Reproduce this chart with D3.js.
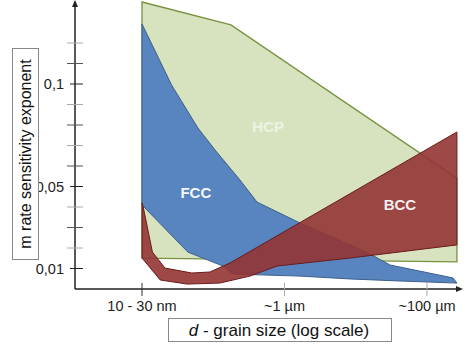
<!DOCTYPE html>
<meta charset="utf-8">
<style>
body { margin: 0; background: #fff; }
text { font-family: "Liberation Sans", Arial, sans-serif; }
.tick text { font-size: 14.5px; fill: #222; }
.region text { font-size: 15px; font-weight: bold; text-anchor: middle; }
</style>
<body>
<svg width="474" height="353"></svg>
<script src="https://cdn.jsdelivr.net/npm/d3@7"></script>
<script>
// grain size in nm, rate sensitivity m
var hcp = [[10,0.140],[177,0.1288],[263000,0.0541],[263000,0.0132],[10,0.0151]];
var fcc = [[10,0.1293],[26,0.0995],[61,0.0785],[106,0.0678],[237,0.0532],[411,0.0424],
           [1650,0.0322],[15850,0.0171],[30270,0.0117],[231700,0.0054],[263000,0.0029],
           [41800,0.0039],[8300,0.0049],[1650,0.0063],[189,0.0073],[137,0.0112],[44,0.018],[10,0.041]];
var bcc = [[10,0.042],[10,0.0151],[18,0.0044],[43,0.0024],[124,0.0029],[328,0.0063],[785,0.0112],
           [8300,0.0151],[263000,0.0215],[263000,0.0766],[172,0.0127],[90,0.0083],[50,0.0078],
           [21,0.0102],[14,0.018],[10.4,0.04]];
var yTicks = [0.01, 0.05, 0.1];
var yTickLabels = ["0,01", "0,05", "0,1"];
var yMinor = [0.02, 0.03, 0.04, 0.06, 0.07, 0.08, 0.09, 0.11, 0.12];
var xTicks = [10, 1000, 100000];
var xTickLabels = ["10 - 30 nm", "~1 \u00b5m", "~100 \u00b5m"];
var labels = [{name: "HCP", d: 590, m: 0.079, c: "#eef3e3"},
              {name: "FCC", d: 57, m: 0.0468, c: "#f4f7fb"},
              {name: "BCC", d: 41700, m: 0.041, c: "#f7eeee"}];

var svg = d3.select("svg");
var x = d3.scaleLog().domain([10, 1e5]).range([142, 427]);
var y = d3.scaleLinear().domain([0, 0.14]).range([289, 2]);
var x0 = 75, y0 = 289;

var line = d3.line().x(function(d) { return x(d[0]); }).y(function(d) { return y(d[1]); })
  .curve(d3.curveLinearClosed);

var g = svg.append("g").attr("class", "region");
g.append("path").datum(hcp).attr("d", line)
  .attr("fill", "#d7e3be").attr("stroke", "#77923f").attr("stroke-width", 1.3);
g.append("path").datum(fcc).attr("d", line)
  .attr("fill", "#5885bf").attr("stroke", "#3c5f8c").attr("stroke-width", 1);
g.append("path").datum(bcc).attr("d", line)
  .attr("fill", "#943434").attr("fill-opacity", 0.9).attr("stroke", "#6a1c1c").attr("stroke-width", 1);

g.selectAll("text").data(labels).enter().append("text")
  .attr("x", function(d) { return x(d.d); })
  .attr("y", function(d) { return y(d.m); })
  .attr("dy", "0.36em")
  .attr("fill", function(d) { return d.c; })
  .text(function(d) { return d.name; });

// axes
var ax = svg.append("g").attr("stroke", "#222");
ax.append("line").attr("x1", x0).attr("x2", x0).attr("y1", y0).attr("y2", 4).attr("stroke-width", 1.5);
ax.append("line").attr("x1", x0).attr("x2", 458).attr("y1", y0).attr("y2", y0).attr("stroke-width", 1.5);
svg.append("path").attr("d", "M" + x0 + ",0 L" + (x0 - 3) + ",7 L" + (x0 + 3) + ",7 Z").attr("fill", "#222");
svg.append("path").attr("d", "M463," + y0 + " L456," + (y0 - 3) + " L456," + (y0 + 3) + " Z").attr("fill", "#222");

ax.selectAll(".minor").data(yMinor).enter().append("line")
  .attr("x1", 67).attr("x2", 83)
  .attr("y1", function(d) { return y(d); }).attr("y2", function(d) { return y(d); })
  .attr("stroke", function(d, i) { return i % 2 ? "#555" : "#aaa"; });

var yt = svg.selectAll(".ytick").data(yTicks).enter().append("g").attr("class", "tick");
yt.append("line").attr("x1", 70).attr("x2", 83)
  .attr("y1", function(d) { return y(d); }).attr("y2", function(d) { return y(d); })
  .attr("stroke", "#222");
yt.append("text").attr("x", 64).attr("y", function(d) { return y(d); })
  .attr("dy", "0.35em").attr("text-anchor", "end")
  .text(function(d, i) { return yTickLabels[i]; });

var xt = svg.selectAll(".xtick").data(xTicks).enter().append("g").attr("class", "tick");
xt.append("line").attr("y1", 283).attr("y2", 296)
  .attr("x1", function(d) { return x(d); }).attr("x2", function(d) { return x(d); })
  .attr("stroke", function(d, i) { return i ? "#aaa" : "#333"; });
xt.append("text").attr("y", 311).attr("text-anchor", "middle")
  .attr("x", function(d) { return x(d); })
  .text(function(d, i) { return xTickLabels[i]; });

// axis titles in boxes
svg.append("rect").attr("x", 12.5).attr("y", 48.5).attr("width", 26).attr("height", 211)
  .attr("fill", "#fff").attr("stroke", "#888");
svg.append("text").attr("transform", "translate(31,154) rotate(-90)")
  .attr("text-anchor", "middle").style("font-size", "16px").attr("fill", "#111")
  .text("m rate sensitivity  exponent");

svg.append("rect").attr("x", 168.5).attr("y", 318.5).attr("width", 223).attr("height", 23)
  .attr("fill", "#fff").attr("stroke", "#888");
var xl = svg.append("text").attr("x", 279).attr("y", 336).attr("text-anchor", "middle")
  .style("font-size", "17px").attr("fill", "#111");
xl.append("tspan").style("font-style", "italic").text("d");
xl.append("tspan").text("  - grain size (log scale)");
</script>
</body>
